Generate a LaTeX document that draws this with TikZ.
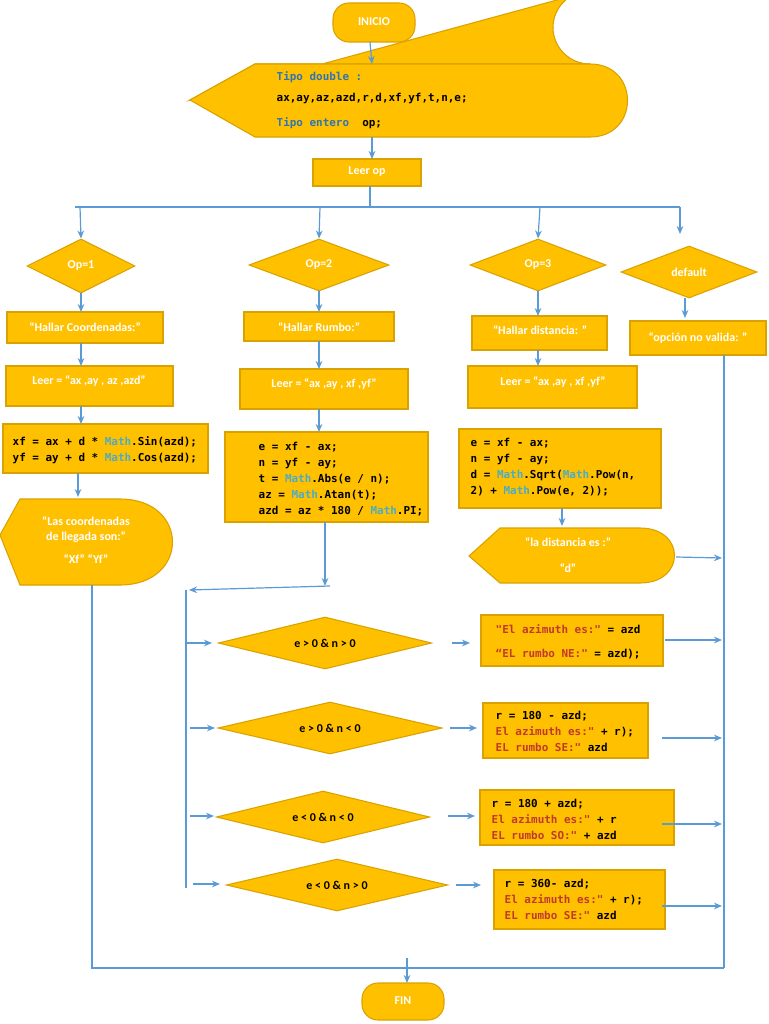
\documentclass[tikz,border=0pt]{standalone}
\usepackage{fontspec}
\setmainfont{Carlito}
\newfontfamily\codefont{DejaVu Sans Mono}[Scale=0.82]
\usetikzlibrary{shapes.geometric,arrows.meta}
\definecolor{fillc}{HTML}{FFC000}
\definecolor{edgec}{HTML}{D9A200}
\definecolor{arr}{HTML}{5B9BD5}
\definecolor{kw}{HTML}{2E75B6}
\definecolor{mth}{HTML}{4BACC6}
\definecolor{red}{HTML}{C0392B}
\newcommand{\M}{\textcolor{mth}{Math}}
\begin{document}
\begin{tikzpicture}[x=0.75pt,y=-0.75pt,
 box/.style={draw=edgec,fill=fillc,line width=0.8pt},
 lbl/.style={text=white,font=\small\bfseries},
 code/.style={font=\codefont\bfseries,align=left,anchor=north west,text=black},
 dia/.style={diamond,draw=edgec,fill=fillc,line width=0.8pt,aspect=2.2,inner sep=0pt,text=white,font=\small\bfseries},
 ar/.style={draw=arr,line width=0.9pt,-{Stealth[length=6pt,width=5pt]}},
 ln/.style={draw=arr,line width=0.9pt}]
\useasboundingbox (0,0) rectangle (768,1024);
% start
\draw[box,rounded corners=12pt] (333,3) rectangle (415,42);
\node[lbl] (ini) at (374,22) {INICIO};
% declaration
\draw[box] (190,100) -- (255,64) -- (590,64) arc(-90:90:-37 and -36.5) -- cycle;
\draw[box] (190,100) -- (255,64) -- (590,64) .. controls (640,64) and (640,137) .. (590,137) -- (255,137) -- cycle;
\node[code,anchor=west,font=\codefont\bfseries\linespread{1.3}\selectfont] (decl) at (272,100) {\textcolor{kw}{Tipo double :}\\ax,ay,az,azd,r,d,xf,yf,t,n,e;\\[3pt]\textcolor{kw}{Tipo entero} \ op;};
\coordinate (declt) at (372,64); \coordinate (declb) at (372,137);
\draw[ar] (370,42) -- (declt);
% leer op
\draw[box] (313,159) rectangle (421,186); \node[lbl] (lop) at (367,172) {Leer op};
\draw[ar] (372,137) -- (372,159);
\draw[ln] (370,186) -- (370,207);
\draw[ln] (75,207) -- (680,207);
% diamonds
\node[dia,minimum width=108pt*0.75,minimum height=54pt*0.75] (d1) at (81,266) {Op=1};
\node[dia,minimum width=105pt,minimum height=39pt] (d2) at (319,265) {Op=2};
\node[dia,minimum width=102pt,minimum height=39pt] (d3) at (538,265) {Op=3};
\node[dia,minimum width=102pt,minimum height=39pt] (d4) at (689,272) {default};
\draw[ar] (80,207) -- (d1.north);
\draw[ar] (320,207) -- (d2.north);
\draw[ar] (540,207) -- (d3.north);
\draw[ar] (680,207) -- (680,234);
% column 1
\draw[box] (7,312) rectangle (163,343); \node[lbl] (h1) at (85,327) {“Hallar Coordenadas:”};
\draw[ar] (81,293) -- (81,312);
\draw[box] (6,366) rectangle (173,406); \node[lbl] (l1) at (89,381) {Leer = “ax ,ay , az ,azd”};
\draw[ar] (81,343) -- (81,366);
\draw[box] (3,424) rectangle (208,473);
\node[code] (c1) at (8,432) {xf = ax + d * \M.Sin(azd);\\yf = ay + d * \M.Cos(azd);};
\draw[ar] (81,406) -- (81,424);
\draw[box] (0,535) -- (20,499) -- (120,499) .. controls (190,499) and (190,585) .. (120,585) -- (20,585) -- cycle;
\node[lbl,align=center] (o1) at (86,540) {“Las coordenadas\\de llegada son:”\\[6pt]“Xf” “Yf”};
\draw[ar] (78,473) -- (78,497);
% column 2
\draw[box] (244,312) rectangle (394,341); \node[lbl] (h2) at (319,327) {“Hallar Rumbo:”};
\draw[ar] (319,291) -- (319,312);
\draw[box] (240,369) rectangle (408,409); \node[lbl] (l2) at (324,384) {Leer = “ax ,ay , xf ,yf”};
\draw[ar] (319,341) -- (319,369);
\draw[box] (225,432) rectangle (428,522);
\node[code] (c2) at (254,437) {e = xf - ax;\\n = yf - ay;\\t = \M.Abs(e / n);\\az = \M.Atan(t);\\azd = az * 180 / \M.PI;};
\draw[ar] (319,409) -- (319,432);
\draw[ar] (325,522) -- (325,586);
\draw[ar] (330,586) -- (189,590);
% column 3
\draw[box] (472,316) rectangle (607,350); \node[lbl] (h3) at (540,330) {“Hallar distancia: ”};
\draw[ar] (538,291) -- (538,316);
\draw[box] (468,366) rectangle (637,408); \node[lbl] (l3) at (553,382) {Leer = “ax ,ay , xf ,yf”};
\draw[ar] (538,350) -- (538,366);
\draw[box] (459,429) rectangle (661,508);
\node[code] (c3) at (466,433) {e = xf - ax;\\n = yf - ay;\\d = \M.Sqrt(\M.Pow(n,\\2) + \M.Pow(e, 2));};
\draw[box] (469,556) -- (500,528) -- (640,528) .. controls (686,528) and (686,583) .. (640,583) -- (500,583) -- cycle;
\node[lbl,align=center] (o3) at (568,555) {“la distancia es :”\\[8pt]“d”};
\draw[ar] (562,508) -- (562,526);
% default column
\draw[box] (630,321) rectangle (766,355); \node[lbl] (h4) at (698,338) {“opción no valida: ”};
\draw[ar] (685,298) -- (685,318);
\draw[ln] (724,355) -- (724,968);
\draw[ar] (676,557) -- (722,558);
% decision chain
\draw[ln] (186,590) -- (186,888);
\node[dia,minimum width=160pt,minimum height=39pt,text=black] (e1) at (325,643) {e > 0 \& n > 0};
\node[dia,minimum width=168pt,minimum height=39pt,text=black] (e2) at (330,728) {e > 0 \& n < 0};
\node[dia,minimum width=160pt,minimum height=39pt,text=black] (e3) at (323,817) {e < 0 \& n < 0};
\node[dia,minimum width=166pt,minimum height=39pt,text=black] (e4) at (337,885) {e < 0 \& n > 0};
\draw[ar] (186,643) -- (212,643);
\draw[ar] (190,728) -- (215,728);
\draw[ar] (190,816) -- (214,816);
\draw[ar] (193,884) -- (220,884);
\draw[box] (481,615) rectangle (663,666);
\node[code,text=red] (b1) at (491,620) {"El azimuth es:" \textcolor{black}{= azd}\\[6pt]“EL rumbo NE:" \textcolor{black}{= azd);}};
\draw[box] (483,703) rectangle (648,758);
\node[code] (b2) at (491,706) {r = 180 - azd;\\\textcolor{red}{El azimuth es:"} + r);\\ \textcolor{red}{EL rumbo SE:"} azd};
\draw[box] (480,790) rectangle (674,845);
\node[code] (b3) at (487,794) {r = 180 + azd;\\\textcolor{red}{El azimuth es:"} + r\\\textcolor{red}{EL rumbo SO:"} + azd};
\draw[box] (494,870) rectangle (665,929);
\node[code] (b4) at (500,874) {r = 360- azd;\\\textcolor{red}{El azimuth es:"} + r);\\ \textcolor{red}{EL rumbo SE:"} azd};
\draw[ar] (452,643) -- (470,643);
\draw[ar] (450,728) -- (477,728);
\draw[ar] (448,816) -- (475,816);
\draw[ar] (456,885) -- (481,885);
\draw[ar] (665,640) -- (722,640);
\draw[ar] (662,738) -- (722,738);
\draw[ar] (662,824) -- (722,824);
\draw[ar] (662,906) -- (722,906);
% end
\draw[ln] (92,585) -- (92,968) -- (724,968);
\draw[box,rounded corners=12pt] (362,983) rectangle (444,1020);
\node[lbl] (fin) at (403,1001) {FIN};
\draw[ar] (407,958) -- (407,983);
\end{tikzpicture}
\end{document}
